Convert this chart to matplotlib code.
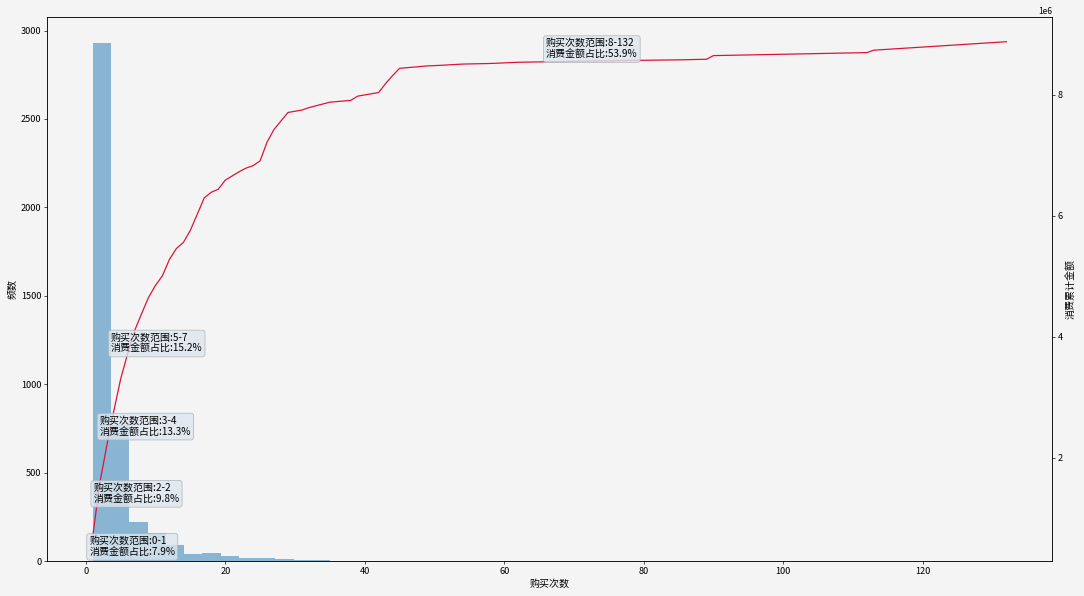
import numpy as np
import matplotlib.pyplot as plt

plt.rcParams['font.family'] = ['Noto Sans CJK SC', 'DejaVu Sans']
plt.rcParams['axes.unicode_minus'] = False

# histogram of purchase counts (50 bins between 1 and 132)
bin_lo, bin_hi, n_bins = 1, 132, 50
bin_counts = [2930, 770, 221, 159, 90, 38, 47, 28, 18, 16,
              9, 8, 7, 0, 0, 0, 0, 0, 0, 0,
              0, 0, 0, 0, 0, 0, 0, 0, 0, 0,
              0, 0, 0, 0, 0, 0, 0, 0, 0, 0,
              0, 0, 0, 0, 0, 0, 0, 0, 0, 0]

# cumulative consumption amount by purchase count (x 1e6)
counts = [1, 2, 3, 4, 5, 6, 7, 8, 9, 10, 11, 12, 13, 14, 15, 16, 17, 18, 19, 20,
          21, 22, 23, 24, 25, 26, 27, 28, 29, 30, 31, 32, 33, 34, 35, 36, 37, 38, 39,
          40, 41, 42, 43, 44, 45, 46, 47, 49, 51, 54, 58, 62, 67, 72, 78, 85, 89, 90,
          112, 113, 132]
cum_amount = [0.70, 1.57, 2.19, 2.76, 3.30, 3.72, 4.10, 4.38, 4.65, 4.85, 5.01, 5.28, 5.46,
              5.56, 5.76, 6.03, 6.30, 6.39, 6.44, 6.59, 6.66, 6.73, 6.79, 6.83, 6.91, 7.22,
              7.43, 7.57, 7.71, 7.73, 7.75, 7.79, 7.82, 7.85, 7.88, 7.89, 7.90, 7.91, 7.98,
              8.00, 8.02, 8.04, 8.19, 8.32, 8.44, 8.45, 8.46, 8.48, 8.49, 8.51, 8.52, 8.54,
              8.55, 8.56, 8.57, 8.58, 8.59, 8.65, 8.70, 8.74, 8.88]

labels = ['购买次数范围:0-1\n消费金额占比:7.9%',
          '购买次数范围:2-2\n消费金额占比:9.8%',
          '购买次数范围:3-4\n消费金额占比:13.3%',
          '购买次数范围:5-7\n消费金额占比:15.2%',
          '购买次数范围:8-132\n消费金额占比:53.9%']
label_x = [0.5, 1.1, 2.0, 3.6, 66.0]
label_y = [80, 380, 760, 1230, 2895]

bg = '#f4f4f4'
fig = plt.figure(figsize=(1084 / 60, 596 / 60), dpi=60, facecolor=bg)
ax1 = fig.add_subplot(111, facecolor=bg)
fig.subplots_adjust(left=0.0434, right=0.9705, top=0.9715, bottom=0.0587)

edges = np.linspace(bin_lo, bin_hi, n_bins + 1)
centers = (edges[:-1] + edges[1:]) / 2
ax1.hist(centers, bins=edges, weights=bin_counts, color='C0', alpha=0.5)
ax1.set_xlabel('购买次数', fontsize=12)
ax1.set_ylabel('频数', fontsize=12)
ax1.set_xlim(-5.55, 138.55)

ax2 = ax1.twinx()
ax2.plot(counts, np.array(cum_amount) * 1e6, color='crimson', lw=1.5)
ax2.set_ylabel('消费累计金额', fontsize=12)
ax2.set_yticks([2e6, 4e6, 6e6, 8e6])

for t, x, y in zip(labels, label_x, label_y):
    ax2.text(x, y, t, fontsize=12, va='center', ha='left', zorder=5,
             transform=ax1.transData,
             bbox=dict(boxstyle='round,pad=0.25', fc='#dde6ef', ec='#a8b0b8', alpha=0.8))

for ax in (ax1, ax2):
    ax.tick_params(labelsize=11)

fig.savefig('out.png', dpi=60, facecolor=bg)
